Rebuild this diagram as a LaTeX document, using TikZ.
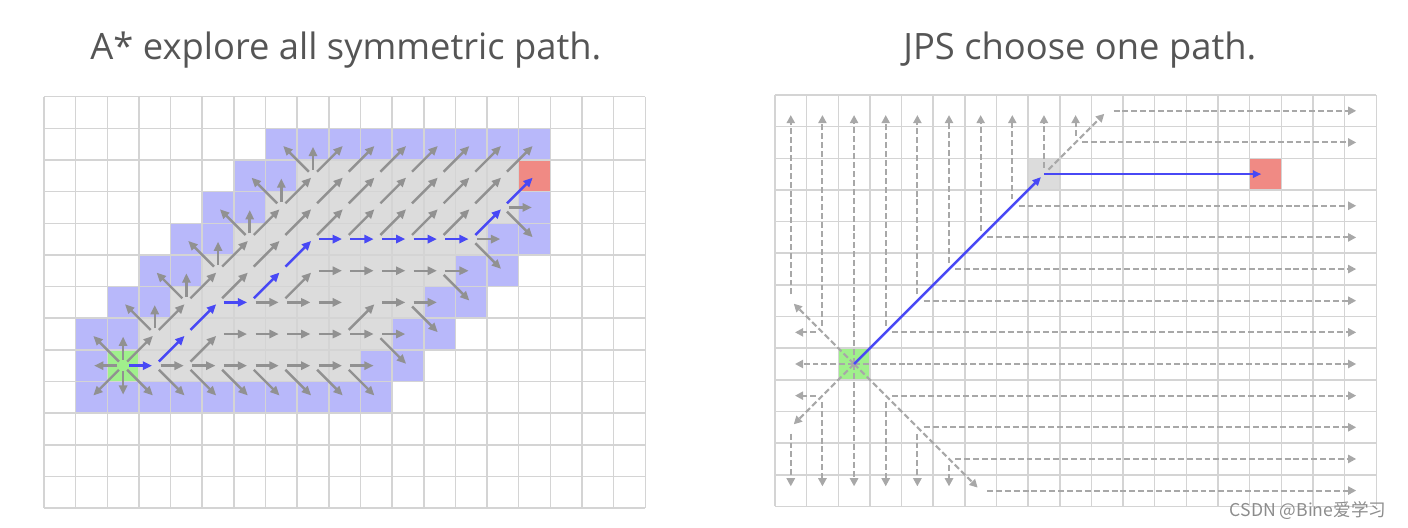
\documentclass[tikz,border=0pt]{standalone}
\usepackage{fontspec}
\setmainfont{Open Sans}
\newfontfamily\cjkfont{Noto Sans CJK SC}
\usepackage{tikz}
\usetikzlibrary{arrows.meta}
\definecolor{gridgray}{RGB}{212,212,212}
\definecolor{openblue}{RGB}{184,184,250}
\definecolor{closedgray}{RGB}{220,220,220}
\definecolor{startgreen}{RGB}{160,240,140}
\definecolor{goalred}{RGB}{240,138,132}
\definecolor{arrowgray}{RGB}{145,145,145}
\definecolor{pathblue}{RGB}{72,72,245}
\definecolor{scangray}{RGB}{168,168,168}
\definecolor{titlegray}{RGB}{85,85,85}
\definecolor{markgray}{RGB}{140,140,140}
\tikzstyle{gridline}=[draw=gridgray,line width=0.8pt]
\tikzstyle{open cell}=[fill=openblue]
\tikzstyle{closed cell}=[fill=closedgray]
\tikzstyle{expand}=[draw=arrowgray,line width=1.3pt,-{Triangle[length=5pt,width=4.4pt]},shorten <=1.1mm,shorten >=0.5mm]
\tikzstyle{found}=[expand,draw=pathblue]
\tikzstyle{scan}=[draw=scangray,line width=1.1pt,dash pattern=on 3.2pt off 1.6pt,-{Triangle[length=4.4pt,width=4.4pt]},shorten >=0.8mm]
\tikzstyle{jump}=[draw=pathblue,line width=1.4pt,-{Triangle[length=4.6pt,width=4pt]},shorten >=0.8mm]
\tikzstyle{heading}=[font=\fontsize{19.6}{24}\selectfont,text=titlegray,anchor=base]

\begin{document}
\begin{tikzpicture}[x=0.6cm,y=0.6cm]
    \useasboundingbox (0,0) rectangle (44.49,-16.68);
    \node[heading] (astar title) at (10.93,-1.896) {A* explore all symmetric path.};
    \node[heading] (jps title) at (34.12,-1.896) {JPS choose one path.};

    \begin{scope}[shift={(1.39,-3.055)},yscale=-1]
    \foreach \r/\a/\b in {2/8/14,3/7/14,4/6/13,5/5/12,6/4/11,7/3/10,8/3/9}
        \fill[closed cell] (\a,\r) rectangle (\b+1,\r+1);
    \foreach \r/\a/\b in {1/7/15,2/6/7,3/5/6,3/15/15,4/4/5,4/14/15,5/3/4,5/13/14,6/2/3,6/12/13,7/1/2,7/11/12,8/1/1,8/10/11,9/1/10}
        \fill[open cell] (\a,\r) rectangle (\b+1,\r+1);
    \fill[startgreen] (2,8) rectangle (3,9);
    \fill[goalred] (15,2) rectangle (16,3);
    \draw[gridline] (0,0) grid[step=1] (19,13);
    \foreach \c in {0,...,18}
        \foreach \r in {0,...,12}
            \coordinate (L\c-\r) at (\c+.5,\r+.5);
    \foreach \c/\r [evaluate=\c as \w using int(\c-1), evaluate=\c as \e using int(\c+1), evaluate=\r as \n using int(\r-1)] in {8/2,7/3,6/4,5/5,4/6,3/7}
        \foreach \d in {\w,\c,\e}
            \draw[expand] (L\c-\r) -- (L\d-\n);
    \foreach \d in {1-7,2-7,3-7,1-8,1-9,2-9,3-9}
        \draw[expand] (L2-8) -- (L\d);
    \foreach \r/\a/\b in {1/10/15,2/9/14,3/8/13}
        \foreach \c in {\a,...,\b}{
            \pgfmathtruncatemacro{\p}{\c-1}
            \pgfmathtruncatemacro{\s}{\r+1}
            \draw[expand] (L\p-\s) -- (L\c-\r);
        }
    \foreach \r/\a/\b in {5/9/13,6/7/9,6/11/12,7/6/11,8/4/10}
        \foreach \c in {\a,...,\b}{
            \pgfmathtruncatemacro{\p}{\c-1}
            \draw[expand] (L\p-\r) -- (L\c-\r);
        }
    \foreach \c in {4,...,10}{
        \pgfmathtruncatemacro{\p}{\c-1}
        \draw[expand] (L\p-8) -- (L\c-9);
    }
    \foreach \a/\b in {6-5/7-4,5-6/6-5,7-6/8-5,9-7/10-6,4-8/5-7,14-3/15-3,13-4/14-4,14-3/15-4,13-4/14-5,12-5/13-6,11-6/12-7,10-7/11-8}
        \draw[expand] (L\a) -- (L\b);
    \foreach \a/\b in {2-8/3-8,3-8/4-7,4-7/5-6,5-6/6-6,6-6/7-5,7-5/8-4,8-4/9-4,9-4/10-4,10-4/11-4,11-4/12-4,12-4/13-4,13-4/14-3,14-3/15-2}
        \draw[found] (L\a) -- (L\b);
    \end{scope}

    \begin{scope}[shift={(24.487,-3.002)},yscale=-1]
    \fill[closed cell] (8,2) rectangle (9,3);
    \fill[startgreen] (2,8) rectangle (3,9);
    \fill[goalred] (15,2) rectangle (16,3);
    \draw[gridline] (0,0) grid[step=1] (19,13);
    \foreach \c in {0,...,18}
        \foreach \r in {0,...,12}
            \coordinate (R\c-\r) at (\c+.5,\r+.5);
    \foreach \a/\b in {0-6/0-0,1-7/1-0,3-7/3-0,4-6/4-0,5-5/5-0,6-4/6-0,7-3/7-0,8-2/8-0,9-1/9-0,3-7/18-7,4-6/18-6,5-5/18-5,6-4/18-4,7-3/18-3,9-1/18-1,10-0/18-0,3-9/18-9,4-10/18-10,5-11/18-11,6-12/18-12,1-7/0-7,1-9/0-9,0-10/0-12,1-9/1-12,3-9/3-12,4-10/4-12,5-11/5-12,8-2/10-0}
        \draw[scan,shorten <=1.2mm] (R\a) -- (R\b);
    \foreach \d in {2-0,18-8,0-8,2-12,0-6,0-10,6-12}
        \draw[scan] (R2-8) -- (R\d);
    \draw[jump] (R2-8) -- (R8-2);
    \draw[jump] (R8-2) -- (R15-2);
    \end{scope}

    \node[anchor=base east,text=markgray,font=\cjkfont\fontsize{9.5}{11}\selectfont] (mark) at (44.01,-16.33) {CSDN @Bine爱学习};
\end{tikzpicture}
\end{document}
